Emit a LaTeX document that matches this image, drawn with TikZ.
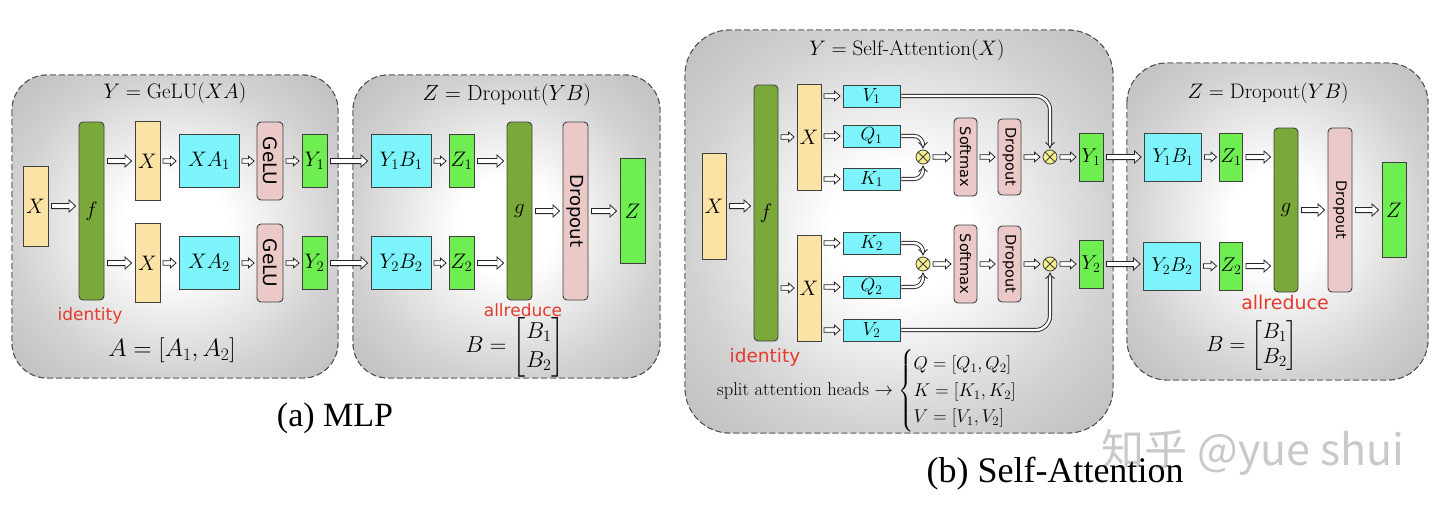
\RequirePackage{fix-cm}
\documentclass[tikz,border=0pt]{standalone}
\usepackage{amsmath}
\usepackage{fontspec}
\usepackage{graphicx}
\usetikzlibrary{arrows.meta,calc}
\newfontfamily\labelsans{DejaVu Sans}
\newfontfamily\capfont{Liberation Serif}
\newfontfamily\cjkfont{Noto Sans CJK SC}
\newcommand\myfs[2]{\fontsize{#1pt}{#2pt}\selectfont}
\definecolor{yel}{HTML}{FBE3A6}
\definecolor{cya}{HTML}{7DF3FB}
\definecolor{grn}{HTML}{6FEE52}
\definecolor{dgrn}{HTML}{7BA83B}
\definecolor{pnk}{HTML}{EBC9C9}
\definecolor{oty}{HTML}{F7F08A}
\definecolor{redt}{HTML}{E53A2E}
\colorlet{shmid}{gray!36}
\colorlet{shedge}{gray!52}
\pgfdeclareradialshading{panelshade}{\pgfpoint{0bp}{0bp}}{color(0bp)=(white); color(8bp)=(white); color(25bp)=(shmid); color(36bp)=(shedge); color(50bp)=(shedge)}
\tikzset{
  panel/.style={draw=black!70, dash pattern=on 6pt off 3pt, line width=0.9pt,
    shading=panelshade},
  sz/.style 2 args={minimum width=#1pt, minimum height=#2pt},
  box/.style={draw=black!75, line width=0.9pt, inner sep=0pt, font=\myfs{21}{25}},
  ybox/.style={box, fill=yel},
  cbox/.style={box, fill=cya},
  gbox/.style={box, fill=grn},
  fbox/.style={box, fill=dgrn, rounded corners=4pt},
  pbox/.style={box, fill=pnk, rounded corners=4pt},
  otim/.style={circle, draw=black!75, line width=0.8pt, fill=oty, minimum size=14pt, inner sep=0pt,
    path picture={\draw[line width=0.8pt, black!75] (path picture bounding box.north west) -- (path picture bounding box.south east)
      (path picture bounding box.north east) -- (path picture bounding box.south west);}},
  dbl/.style={draw=black!85, line width=0.9pt, double=white, double distance=2.4pt,
    -{Implies}, shorten <=1pt, shorten >=1pt},
  harr/.style n args={4}{draw=black!85, line width=0.8pt, fill=white, line join=miter,
    to path={let \p1=(\tikztostart), \p2=(\tikztotarget) in
      (\x1+#4,\y1+#1) -- (\x2-#4-#3,\y1+#1) -- (\x2-#4-#3,\y1+#2) -- (\x2-#4,\y1)
      -- (\x2-#4-#3,\y1-#2) -- (\x2-#4-#3,\y1-#1) -- (\x1+#4,\y1-#1) -- cycle}},
  hbig/.style={harr={2.6pt}{6pt}{6.5pt}{3pt}},
  hsm/.style={harr={2.2pt}{4.8pt}{5.5pt}{2.5pt}},
  redlab/.style={text=redt, font=\labelsans\myfs{17}{20}, inner sep=0pt},
  txt/.style={inner sep=0pt, font=\myfs{21}{25}},
}
\begin{document}
\begin{tikzpicture}[x=1pt,y=-1pt]
\useasboundingbox[fill=white] (0,0) rectangle (1440,514);
% panels
\shade[panel, rounded corners=35pt] (12,75) rectangle (338,378);
\draw[panel, rounded corners=35pt] (12,75) rectangle (338,378);
\shade[panel, rounded corners=35pt] (353,75) rectangle (660,378);
\draw[panel, rounded corners=35pt] (353,75) rectangle (660,378);
\shade[panel, rounded corners=45pt] (685,30) rectangle (1113,433);
\draw[panel, rounded corners=45pt] (685,30) rectangle (1113,433);
\shade[panel, rounded corners=40pt] (1127,63) rectangle (1428,380);
\draw[panel, rounded corners=40pt] (1127,63) rectangle (1428,380);

% ---------- MLP, first panel
\node[ybox, sz={25}{80}] (xa) at (35.5,206) {$X$};
\node[fbox, sz={25}{178}] (fa) at (91.5,211) {$f$};
\node[ybox, sz={25}{79}] (xa1) at (147.5,161) {$X$};
\node[ybox, sz={25}{79}] (xa2) at (147.5,263) {$X$};
\node[cbox, sz={60}{53}] (xaa1) at (209,161) {$XA_1$};
\node[cbox, sz={60}{53}] (xaa2) at (209,263) {$XA_2$};
\node[pbox, sz={26}{78}] (ge1) at (270,161) {\rotatebox{-90}{\labelsans\myfs{18.5}{20}GeLU}};
\node[pbox, sz={26}{78}] (ge2) at (270,263) {\rotatebox{-90}{\labelsans\myfs{18.5}{20}GeLU}};
\node[gbox, sz={25}{53}] (ya1) at (314.5,161) {$Y_1$};
\node[gbox, sz={25}{53}] (ya2) at (314.5,263) {$Y_2$};
% ---------- MLP, second panel
\node[cbox, sz={60}{53}] (yb1) at (401,161) {$Y_1B_1$};
\node[cbox, sz={60}{53}] (yb2) at (401,263) {$Y_2B_2$};
\node[gbox, sz={25}{53}] (za1) at (461.5,161) {$Z_1$};
\node[gbox, sz={25}{53}] (za2) at (461.5,263) {$Z_2$};
\node[fbox, sz={25}{178}] (ga) at (519.5,211) {$g$};
\node[pbox, sz={25}{178}] (da) at (575.5,211) {\rotatebox{-90}{\labelsans\myfs{18}{20}Dropout}};
\node[gbox, sz={25}{105}] (zza) at (632.5,211) {$Z$};

\draw[hbig] (xa.east) to (xa.east -| fa.west);
\draw[hbig] (fa.east |- xa1.west) to (xa1.west);
\draw[hbig] (fa.east |- xa2.west) to (xa2.west);
\draw[hsm] (xa1.east) to (xaa1.west);
\draw[hsm] (xa2.east) to (xaa2.west);
\draw[hsm] (xaa1.east) to (ge1.west);
\draw[hsm] (xaa2.east) to (ge2.west);
\draw[hsm] (ge1.east) to (ya1.west);
\draw[hsm] (ge2.east) to (ya2.west);
\draw[hbig] (ya1.east) to (yb1.west);
\draw[hbig] (ya2.east) to (yb2.west);
\draw[hsm] (yb1.east) to (za1.west);
\draw[hsm] (yb2.east) to (za2.west);
\draw[hbig] (za1.east) to (za1.east -| ga.west);
\draw[hbig] (za2.east) to (za2.east -| ga.west);
\draw[hbig] (ga.east) to (da.west);
\draw[hbig] (da.east) to (zza.west);

\node[txt] (ta) at (175,93) {$Y=\mathrm{GeLU}(XA)$};
\node[redlab] (ida) at (90,316) {identity};
\node[txt, font=\myfs{25}{30}] (aeq) at (172,350) {$A=[A_1,A_2]$};
\node[txt, font=\myfs{22}{26}] (tb) at (507,95) {$Z=\mathrm{Dropout}(YB)$};
\node[redlab] (ara) at (523,310) {allreduce};
\node[txt, font=\myfs{23}{29}] (beqa) at (515,347) {$B=\begin{bmatrix}B_1\\B_2\end{bmatrix}$};
\node[inner sep=0pt, font=\capfont\myfs{34}{40}] (capa) at (335,418) {(a) MLP};

% ---------- Self-attention panel
\node[ybox, sz={24}{106}] (xb) at (714,206) {$X$};
\node[fbox, sz={24}{256}] (fb) at (766,213) {$f$};
\node[ybox, sz={24}{106}] (xb1) at (809,137) {$X$};
\node[ybox, sz={24}{106}] (xb2) at (809,288) {$X$};
\node[cbox, sz={57}{22}, font=\myfs{19}{22}] (v1) at (871.5,96) {$V_1$};
\node[cbox, sz={57}{22}, font=\myfs{19}{22}] (q1) at (871.5,136) {$Q_1$};
\node[cbox, sz={57}{22}, font=\myfs{19}{22}] (k1) at (871.5,179) {$K_1$};
\node[cbox, sz={57}{22}, font=\myfs{19}{22}] (k2) at (871.5,243) {$K_2$};
\node[cbox, sz={57}{22}, font=\myfs{19}{22}] (q2) at (871.5,287) {$Q_2$};
\node[cbox, sz={57}{22}, font=\myfs{19}{22}] (v2) at (871.5,330) {$V_2$};
\node[otim] (ot1) at (923,157) {};
\node[otim] (ot2) at (923,264) {};
\node[pbox, sz={23}{78}] (sm1) at (965.5,157) {\rotatebox{-90}{\labelsans\myfs{14.5}{16}Softmax}};
\node[pbox, sz={23}{78}] (sm2) at (965.5,264) {\rotatebox{-90}{\labelsans\myfs{14.5}{16}Softmax}};
\node[pbox, sz={23}{76}] (dr1) at (1009.5,157) {\rotatebox{-90}{\labelsans\myfs{14.5}{16}Dropout}};
\node[pbox, sz={23}{76}] (dr2) at (1009.5,264) {\rotatebox{-90}{\labelsans\myfs{14.5}{16}Dropout}};
\node[otim] (ot3) at (1050,157) {};
\node[otim] (ot4) at (1050,264) {};
\node[gbox, sz={24}{48}, font=\myfs{20}{24}] (y1b) at (1091,157) {$Y_1$};
\node[gbox, sz={24}{48}, font=\myfs{20}{24}] (y2b) at (1091,264) {$Y_2$};

\draw[hbig] (xb.east) to (xb.east -| fb.west);
\draw[hsm] (fb.east |- xb1.west) to (xb1.west);
\draw[hsm] (fb.east |- xb2.west) to (xb2.west);
\foreach \t in {v1,q1,k1} {\draw[hsm] (xb1.east |- \t.west) to (\t.west);}
\foreach \t in {k2,q2,v2} {\draw[hsm] (xb2.east |- \t.west) to (\t.west);}
\draw[dbl, rounded corners=9pt] (q1.east) -| (ot1.north);
\draw[dbl, rounded corners=9pt] (k1.east) -| (ot1.south);
\draw[dbl, rounded corners=9pt] (k2.east) -| (ot2.north);
\draw[dbl, rounded corners=9pt] (q2.east) -| (ot2.south);
\draw[dbl, rounded corners=14pt] (v1.east) -| (ot3.north);
\draw[dbl, rounded corners=14pt] (v2.east) -| (ot4.south);
\draw[hsm] (ot1.east) to (sm1.west);
\draw[hsm] (ot2.east) to (sm2.west);
\draw[hsm] (sm1.east) to (dr1.west);
\draw[hsm] (sm2.east) to (dr2.west);
\draw[hsm] (dr1.east) to (ot3.west);
\draw[hsm] (dr2.east) to (ot4.west);
\draw[hsm] (ot3.east) to (y1b.west);
\draw[hsm] (ot4.east) to (y2b.west);

\node[txt] (tsa) at (907,50) {$Y=\mathrm{Self\text{-}Attention}(X)$};
\node[redlab, font=\labelsans\myfs{18.5}{22}] (idb) at (765,357) {identity};
\node[inner sep=0pt, anchor=west, font=\myfs{18.5}{22}] (split) at (717,391)
  {split attention heads $\rightarrow\begin{cases}Q=[Q_1,Q_2]\\K=[K_1,K_2]\\V=[V_1,V_2]\end{cases}$};

% ---------- last panel
\node[cbox, sz={57}{48}, font=\myfs{20}{24}] (yc1) at (1173,157) {$Y_1B_1$};
\node[cbox, sz={57}{48}, font=\myfs{20}{24}] (yc2) at (1172,266) {$Y_2B_2$};
\node[gbox, sz={23}{48}, font=\myfs{20}{24}] (zc1) at (1231,157) {$Z_1$};
\node[gbox, sz={23}{48}, font=\myfs{20}{24}] (zc2) at (1231,266) {$Z_2$};
\node[fbox, sz={24}{164}] (gc) at (1286,210) {$g$};
\node[pbox, sz={24}{164}] (dc) at (1340,210) {\rotatebox{-90}{\labelsans\myfs{14.5}{16}Dropout}};
\node[gbox, sz={24}{95}] (zzc) at (1394,210) {$Z$};

\draw[hbig] (y1b.east) to (y1b.east -| yc1.west);
\draw[hbig] (y2b.east) to (y2b.east -| yc2.west);
\draw[hsm] (yc1.east) to (zc1.west);
\draw[hsm] (yc2.east) to (zc2.west);
\draw[hbig] (zc1.east) to (zc1.east -| gc.west);
\draw[hbig] (zc2.east) to (zc2.east -| gc.west);
\draw[hbig] (gc.east) to (dc.west);
\draw[hbig] (dc.east) to (zzc.west);

\node[txt] (tc) at (1268,93) {$Z=\mathrm{Dropout}(YB)$};
\node[redlab, font=\labelsans\myfs{19}{22}] (arc) at (1285,302) {allreduce};
\node[txt, font=\myfs{22}{25}] (beqc) at (1252,346) {$B=\begin{bmatrix}B_1\\B_2\end{bmatrix}$};

\node[inner sep=0pt, text=gray!42, font=\cjkfont\myfs{43}{46}] (wm) at (1253,452) {知乎 @yue shui};
\node[inner sep=0pt, font=\capfont\myfs{36}{42}] (capb) at (1055,474) {(b) Self-Attention};
\end{tikzpicture}
\end{document}
